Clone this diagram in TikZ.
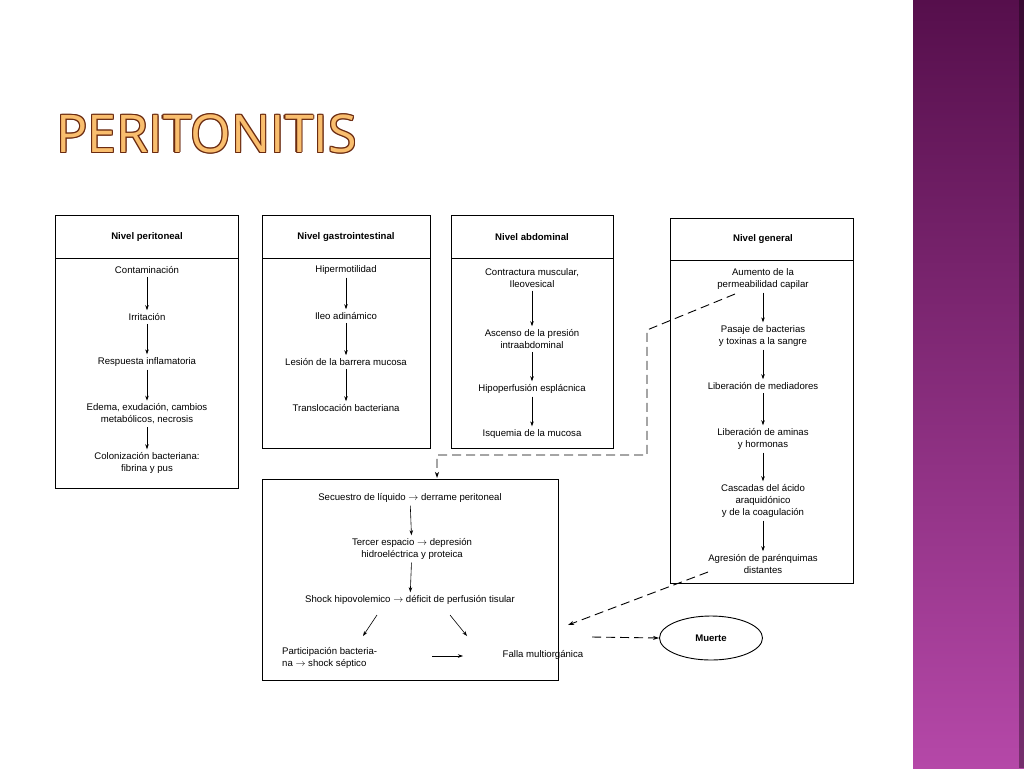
\documentclass[tikz,border=0pt]{standalone}
\usepackage{fontspec}
\setmainfont{Liberation Sans}
\newfontfamily\titlefont{Open Sans}
\usetikzlibrary{arrows.meta,shapes.geometric}
\definecolor{bandtop}{HTML}{560F4C}
\definecolor{bandbot}{HTML}{B548A8}
\definecolor{titlefill}{HTML}{F9BE6E}
\definecolor{titleline}{HTML}{6A2A10}
\begin{document}
\begin{tikzpicture}[x=1pt,y=-1pt,
  every node/.style={font=\fontsize{9.6}{12}\selectfont,align=center,inner sep=0pt},
  lvl/.style={draw=black,line width=0.8pt},
  hdr/.style={font=\fontsize{9.6}{12}\selectfont\bfseries},
  arr/.style={-{Stealth[length=5pt,width=3.5pt]},line width=0.6pt,shorten >=3pt,shorten <=3pt},
  dsh/.style={line width=0.9pt,dash pattern=on 9pt off 5pt},
  ttl/.style={anchor=west,inner sep=0pt,font=\titlefont\fontsize{52}{54}\selectfont}
  ]
\useasboundingbox (0,0) rectangle (1024,768);
\shade[top color=bandtop,bottom color=bandbot] (913,0) rectangle (1024,768);
\fill[black,opacity=0.35] (1019,0) rectangle (1024,768);
% title (outline by offset copies)
\foreach \dx/\dy in {-1.2/0,1.2/0,0/-1.2,0/1.2,-0.9/-0.9,0.9/0.9,-0.9/0.9,0.9/-0.9}
  \node[ttl,text=titleline] at (56+\dx,134+\dy) {PERITONITIS};
\node[ttl,text=titlefill] (title) at (56,134) {PERITONITIS};
% boxes
\draw[lvl] (55,215) rectangle (238,488);
\draw[lvl] (55,258) -- (238,258);
\node[hdr] (h1) at (147,237) {Nivel peritoneal};
\draw[lvl] (262,215) rectangle (430,448);
\draw[lvl] (262,258) -- (430,258);
\node[hdr] (h2) at (346,237) {Nivel gastrointestinal};
\draw[lvl] (451,215) rectangle (613,448);
\draw[lvl] (451,258) -- (613,258);
\node[hdr] (h3) at (532,237) {Nivel abdominal};
\draw[lvl] (670,218) rectangle (853,583);
\draw[lvl] (670,260) -- (853,260);
\node[hdr] (h4) at (763,239) {Nivel general};
\draw[lvl] (262,479) rectangle (558,680);
% column 1
\node (a1) at (147,270) {Contaminación};
\node (a2) at (147,317) {Irritación};
\node (a3) at (147,362) {Respuesta inflamatoria};
\node (a4) at (147,414) {Edema, exudación, cambios\\metabólicos, necrosis};
\node (a5) at (147,463) {Colonización bacteriana:\\fibrina y pus};
\foreach \u/\v in {a1/a2,a2/a3,a3/a4,a4/a5} \draw[arr] (\u) -- (\v);
% column 2
\node (b1) at (346,270) {Hipermotilidad};
\node (b2) at (346,316) {Ileo adinámico};
\node (b3) at (346,362) {Lesión de la barrera mucosa};
\node (b4) at (346,408) {Translocación bacteriana};
\foreach \u/\v in {b1/b2,b2/b3,b3/b4} \draw[arr] (\u) -- (\v);
% column 3
\node (c1) at (532,278) {Contractura muscular,\\Ileovesical};
\node (c2) at (532,339) {Ascenso de la presión\\intraabdominal};
\node (c3) at (532,389) {Hipoperfusión esplácnica};
\node (c4) at (532,434) {Isquemia de la mucosa};
\foreach \u/\v in {c1/c2,c2/c3,c3/c4} \draw[arr] (\u) -- (\v);
% column 4
\node (d1) at (763,279) {Aumento de la\\permeabilidad capilar};
\node (d2) at (763,336) {Pasaje de bacterias\\y toxinas a la sangre};
\node (d3) at (763,386) {Liberación de mediadores};
\node (d4) at (763,439) {Liberación de aminas\\y hormonas};
\node (d5) at (763,501) {Cascadas del ácido\\araquidónico\\y de la coagulación};
\node (d6) at (763,564) {Agresión de parénquimas\\distantes};
\foreach \u/\v in {d1/d2,d2/d3,d3/d4,d4/d5,d5/d6} \draw[arr] (\u) -- (\v);
% bottom box
\node (e1) at (410,498) {Secuestro de líquido $\rightarrow$ derrame peritoneal};
\node (e2) at (412,549) {Tercer espacio $\rightarrow$ depresión\\hidroeléctrica y proteica};
\node (e3) at (410,600) {Shock hipovolemico $\rightarrow$ déficit de perfusión tisular};
\node[align=left,anchor=west] (e4) at (282,658) {Participación bacteria-\\na $\rightarrow$ shock séptico};
\node (e5) at (543,655) {Falla multiorgánica};
\node[draw,ellipse,line width=0.9pt,minimum width=103pt,minimum height=44pt,font=\fontsize{9.6}{12}\selectfont\bfseries] (m) at (711,638) {Muerte};
\draw[arr] (e1) -- (e2);
\draw[arr] (e2) -- (e3);
\coordinate (f1) at (377,615); \coordinate (f2) at (363,636);
\coordinate (g1) at (450,615); \coordinate (g2) at (467,636);
\coordinate (k1) at (432,656); \coordinate (k2) at (463,656);
\draw[arr,shorten <=0pt,shorten >=0pt] (f1) -- (f2);
\draw[arr,shorten <=0pt,shorten >=0pt] (g1) -- (g2);
\draw[arr,shorten <=0pt,shorten >=0pt] (k1) -- (k2);
\draw[dsh,-{Stealth[length=6pt,width=4pt]}] (592,637) -- (m.west);
% dashed connectors
\coordinate (p1) at (735,294);
\coordinate (p2) at (647,330);
\coordinate (p3) at (647,455);
\coordinate (p4) at (437,455);
\coordinate (p5) at (437,478);
\draw[dsh,-{Stealth[length=6pt,width=4pt]}] (p1) -- (p2) -- (p3) -- (p4) -- (p5);
\coordinate (q1) at (708,572);
\coordinate (q2) at (568,625);
\draw[dsh,-{Stealth[length=6pt,width=4pt]}] (q1) -- (q2);
\end{tikzpicture}
\end{document}
